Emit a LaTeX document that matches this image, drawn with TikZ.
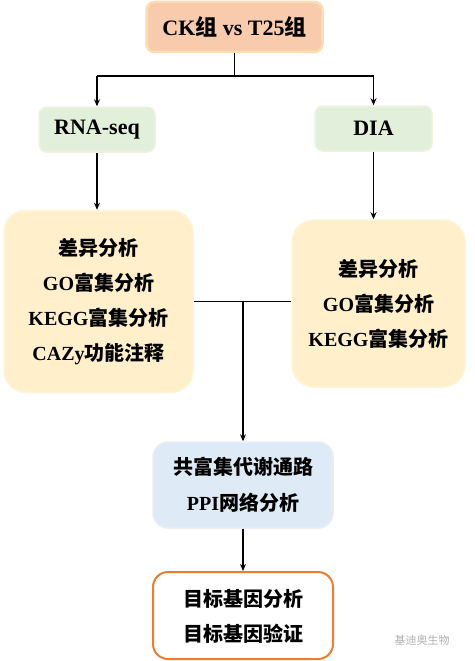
\documentclass[tikz,border=0pt]{standalone}
\usepackage{fontspec}
\setmainfont{Liberation Serif}
\newfontfamily\cjkfont{Noto Sans CJK SC}
\usetikzlibrary{arrows.meta}
\newcommand\zh[1]{{\cjkfont\bfseries #1}}
\definecolor{salmon}{HTML}{F8CBAD}
\definecolor{salmonedge}{HTML}{FBDDB4}
\definecolor{lgreen}{HTML}{E2EFDA}
\definecolor{lgreenedge}{HTML}{EEF2DE}
\definecolor{lyellow}{HTML}{FFF0CB}
\definecolor{lyellowedge}{HTML}{FFF3D8}
\definecolor{lblue}{HTML}{DEEBF7}
\definecolor{lblueedge}{HTML}{E8EEF4}
\definecolor{orangeedge}{HTML}{ED7D31}
\tikzset{
  box/.style={rounded corners=#1, line width=1.5pt, align=center, inner sep=0pt, font=\bfseries\fontsize{20}{35}\selectfont},
  arr/.style={line width=1.8pt, -{Stealth[length=7pt,width=6pt]}},
  ln/.style={line width=1.8pt},
}
\begin{document}
\begin{tikzpicture}[x=1pt,y=-1pt]
\useasboundingbox[fill=white] (0,0) rectangle (474,661);
\node[box=8pt, fill=salmon, draw=salmonedge, line width=2.5pt, minimum width=176pt, minimum height=50pt, font=\bfseries\fontsize{22}{26}\selectfont] (top) at (234.5,27) {CK\zh{组} vs T25\zh{组}};
\node[box=8pt, fill=lgreen, draw=lgreenedge, minimum width=116pt, minimum height=45pt, font=\bfseries\fontsize{22}{26}\selectfont] (rna) at (97,129.5) {RNA-seq};
\node[box=8pt, fill=lgreen, draw=lgreenedge, minimum width=117pt, minimum height=45pt, font=\bfseries\fontsize{22}{26}\selectfont] (dia) at (373.5,128.5) {DIA};
\node[box=22pt, fill=lyellow, draw=lyellowedge, minimum width=189pt, minimum height=182pt] (left) at (98.5,301.5) {\zh{差异分析}\\GO\zh{富集分析}\\KEGG\zh{富集分析}\\CAZy\zh{功能注释}};
\node[box=22pt, fill=lyellow, draw=lyellowedge, minimum width=173pt, minimum height=167pt] (right) at (378.5,303.5) {\zh{差异分析}\\GO\zh{富集分析}\\KEGG\zh{富集分析}};
\node[box=15pt, fill=lblue, draw=lblueedge, minimum width=180pt, minimum height=86pt, font=\bfseries\fontsize{20}{36}\selectfont] (blue) at (243,485) {\zh{共富集代谢通路}\\PPI\zh{网络分析}};
\node[box=15pt, fill=white, draw=orangeedge, line width=2pt, minimum width=180pt, minimum height=87pt, text depth=0pt] (orange) at (243,615.5) {\zh{目标基因分析}\\\zh{目标基因验证}};
\node[font=\cjkfont\fontsize{11}{13}\selectfont, text=black!30] (wm) at (422,640) {基迪奥生物};
% connectors
\draw[ln] (top.south) -- ++(0,23) coordinate (split);
\draw[ln] (rna.north |- split) -- (dia.north |- split);
\draw[arr] (rna.north |- split) -- (rna.north);
\draw[arr] (dia.north |- split) -- (dia.north);
\draw[arr] (rna.south) -- (rna.south |- left.north);
\draw[arr] (dia.south) -- (dia.south |- right.north);
\draw[ln] (left.east) -- (right.west |- left.east);
\coordinate (merge) at (blue.north |- left.east);
\draw[arr] (merge) -- (blue.north);
\draw[arr] (blue.south) -- (orange.north);
\end{tikzpicture}
\end{document}
